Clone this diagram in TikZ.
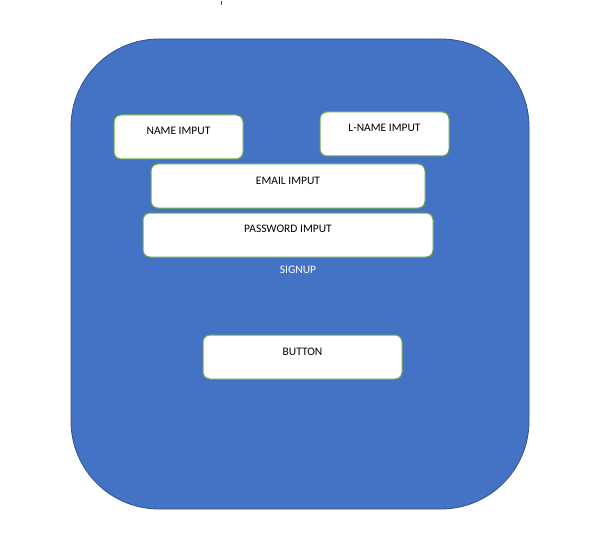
\documentclass[tikz,border=0pt]{standalone}
\usepackage{fontspec}
\setmainfont{Carlito}
\definecolor{bigfill}{HTML}{4472C4}
\definecolor{bigline}{HTML}{2F528F}
\definecolor{boxline}{HTML}{70AD47}
\begin{document}
\begin{tikzpicture}[x=1pt,y=-1pt,
  inbox/.style={draw=boxline, line width=1pt, fill=white, rounded corners=7pt, inner sep=0pt},
  lbl/.style={font=\fontsize{11.5}{14}\selectfont, text=black, anchor=center, inner sep=0pt}]
\useasboundingbox (0,0) rectangle (593,553);
\fill[white] (0,0) rectangle (593,553);
\draw[bigline, line width=0.8pt] (221,1) -- (221,5);
\node[draw=bigline, fill=bigfill, line width=0.8pt, rounded corners=88pt,
  minimum width=458pt, minimum height=470pt, inner sep=0pt] (panel) at (300,274) {};
\node[inbox, minimum width=129pt, minimum height=44pt] (name) at (178.5,137) {};
\node[lbl] (nametxt) at ([yshift=-16pt]name.north) {NAME IMPUT};
\node[inbox, minimum width=129pt, minimum height=44pt] (lname) at (384.5,134) {};
\node[lbl] (lnametxt) at ([yshift=-16pt]lname.north) {L-NAME IMPUT};
\node[inbox, minimum width=274pt, minimum height=44pt] (email) at (288,186) {};
\node[lbl] (emailtxt) at ([yshift=-17pt]email.north) {EMAIL IMPUT};
\node[inbox, minimum width=290pt, minimum height=44pt] (pass) at (288,235) {};
\node[lbl] (passtxt) at ([yshift=-16pt]pass.north) {PASSWORD IMPUT};
\node[lbl, text=white] (signup) at (298,269.5) {SIGNUP};
\node[inbox, minimum width=199pt, minimum height=44pt] (button) at (302.5,357) {};
\node[lbl] (buttontxt) at ([yshift=-17pt]button.north) {BUTTON};
\end{tikzpicture}
\end{document}
